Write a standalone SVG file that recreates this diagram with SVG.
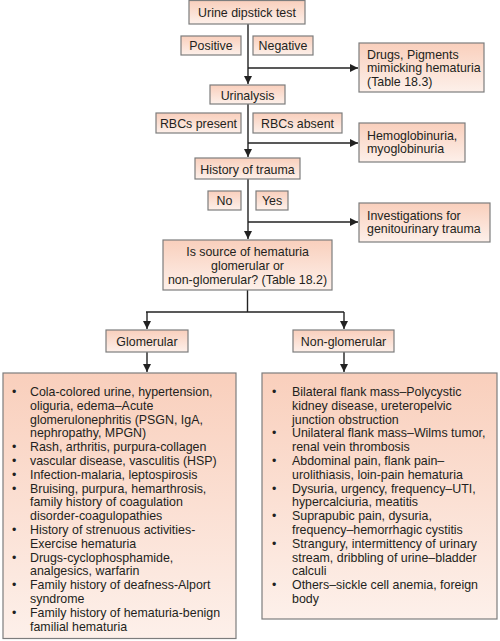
<svg xmlns="http://www.w3.org/2000/svg" width="500" height="641" viewBox="0 0 500 641">
<defs>
<linearGradient id="g" x1="0" y1="0" x2="0" y2="1">
<stop offset="0" stop-color="#f9cfbc"/>
<stop offset="1" stop-color="#fdf0ea"/>
</linearGradient>
<marker id="ah" viewBox="0 0 10 10" refX="10" refY="5" markerWidth="8" markerHeight="8" markerUnits="userSpaceOnUse" orient="auto">
<path d="M0,0 L10,5 L0,10 z" fill="#222"/>
</marker>
<style>
rect{fill:url(#g);stroke:#7d7d7d;stroke-width:1.2}
text{font-family:"Liberation Sans",Arial,sans-serif;font-size:12.4px;fill:#231f20}
.c{text-anchor:middle}
.con path{fill:none;stroke:#222;stroke-width:1.4}
</style>
</defs>
<g class="con">
<path d="M248,24 V84" marker-end="url(#ah)"/>
<path d="M248,68 H358" marker-end="url(#ah)"/>
<path d="M248,104 V157" marker-end="url(#ah)"/>
<path d="M248,143 H358" marker-end="url(#ah)"/>
<path d="M248,179 V239" marker-end="url(#ah)"/>
<path d="M248,222 H358" marker-end="url(#ah)"/>
<path d="M247.5,290 V312"/>
<path d="M146,312 H344"/>
<path d="M147,312 V329" marker-end="url(#ah)"/>
<path d="M344,312 V329" marker-end="url(#ah)"/>
<path d="M147,352 V372" marker-end="url(#ah)"/>
<path d="M344,352 V372" marker-end="url(#ah)"/>
</g>
<g id="dipstick"><rect x="189" y="0.5" width="116" height="23.5"/><text class="c" x="247" y="16.5">Urine dipstick test</text></g>
<g id="positive"><rect x="181" y="36" width="60" height="19"/><text class="c" x="211" y="50">Positive</text></g>
<g id="negative"><rect x="253" y="36" width="60" height="19"/><text class="c" x="283" y="50">Negative</text></g>
<g id="drugs"><rect x="359" y="43" width="125" height="49"/><text x="367" y="58.5">Drugs, Pigments</text><text x="367" y="72">mimicking hematuria</text><text x="367" y="85.5">(Table 18.3)</text></g>
<g id="urinalysis"><rect x="210" y="85" width="75" height="19"/><text class="c" x="247.5" y="99.5">Urinalysis</text></g>
<g id="rbcpresent"><rect x="156" y="113" width="85" height="20"/><text class="c" x="198.5" y="127.5">RBCs present</text></g>
<g id="rbcabsent"><rect x="253" y="113" width="89" height="20"/><text class="c" x="297.5" y="127.5">RBCs absent</text></g>
<g id="hemoglobinuria"><rect x="359" y="123" width="106" height="39"/><text x="367" y="139.5">Hemoglobinuria,</text><text x="367" y="153">myoglobinuria</text></g>
<g id="trauma"><rect x="195" y="158" width="105" height="21"/><text class="c" x="247.5" y="173.5">History of trauma</text></g>
<g id="no"><rect x="208" y="191" width="33" height="19"/><text class="c" x="224.5" y="205">No</text></g>
<g id="yes"><rect x="256" y="191" width="32" height="19"/><text class="c" x="272" y="205">Yes</text></g>
<g id="investigations"><rect x="359" y="203" width="131" height="39"/><text x="367" y="219.5">Investigations for</text><text x="367" y="233">genitourinary trauma</text></g>
<g id="source"><rect x="163" y="240" width="169" height="50"/><text class="c" x="247.5" y="256">Is source of hematuria</text><text class="c" x="247.5" y="269.5">glomerular or</text><text class="c" x="247.5" y="283.5">non-glomerular? (Table 18.2)</text></g>
<g id="glomerular"><rect x="106" y="330" width="82" height="22"/><text class="c" x="147" y="346">Glomerular</text></g>
<g id="nonglomerular"><rect x="293" y="330" width="101" height="22"/><text class="c" x="343.5" y="346">Non-glomerular</text></g>
<g id="glomlist"><rect x="3" y="373" width="233" height="265.5"/>
<text x="12" y="396">•</text><text x="30" y="396">Cola-colored urine, hypertension,</text>
<text x="30" y="409.8">oliguria, edema–Acute</text>
<text x="30" y="423.6">glomerulonephritis (PSGN, IgA,</text>
<text x="30" y="437.4">nephropathy, MPGN)</text>
<text x="12" y="451.2">•</text><text x="30" y="451.2">Rash, arthritis, purpura-collagen</text>
<text x="12" y="465">•</text><text x="30" y="465">vascular disease, vasculitis (HSP)</text>
<text x="12" y="478.8">•</text><text x="30" y="478.8">Infection-malaria, leptospirosis</text>
<text x="12" y="492.6">•</text><text x="30" y="492.6">Bruising, purpura, hemarthrosis,</text>
<text x="30" y="506.4">family history of coagulation</text>
<text x="30" y="520.2">disorder-coagulopathies</text>
<text x="12" y="534">•</text><text x="30" y="534">History of strenuous activities-</text>
<text x="30" y="547.8">Exercise hematuria</text>
<text x="12" y="561.6">•</text><text x="30" y="561.6">Drugs-cyclophosphamide,</text>
<text x="30" y="575.4">analgesics, warfarin</text>
<text x="12" y="589.2">•</text><text x="30" y="589.2">Family history of deafness-Alport</text>
<text x="30" y="603">syndrome</text>
<text x="12" y="616.8">•</text><text x="30" y="616.8">Family history of hematuria-benign</text>
<text x="30" y="630.6">familial hematuria</text>
</g>
<g id="nonglomlist"><rect x="262" y="373" width="235" height="246"/>
<text x="272" y="396">•</text><text x="292" y="396">Bilateral flank mass–Polycystic</text>
<text x="292" y="409.8">kidney disease, ureteropelvic</text>
<text x="292" y="423.6">junction obstruction</text>
<text x="272" y="437.4">•</text><text x="292" y="437.4">Unilateral flank mass–Wilms tumor,</text>
<text x="292" y="451.2">renal vein thrombosis</text>
<text x="272" y="465">•</text><text x="292" y="465">Abdominal pain, flank pain–</text>
<text x="292" y="478.8">urolithiasis, loin-pain hematuria</text>
<text x="272" y="492.6">•</text><text x="292" y="492.6">Dysuria, urgency, frequency–UTI,</text>
<text x="292" y="506.4">hypercalciuria, meatitis</text>
<text x="272" y="520.2">•</text><text x="292" y="520.2">Suprapubic pain, dysuria,</text>
<text x="292" y="534">frequency–hemorrhagic cystitis</text>
<text x="272" y="547.8">•</text><text x="292" y="547.8">Strangury, intermittency of urinary</text>
<text x="292" y="561.6">stream, dribbling of urine–bladder</text>
<text x="292" y="575.4">calculi</text>
<text x="272" y="589.2">•</text><text x="292" y="589.2">Others–sickle cell anemia, foreign</text>
<text x="292" y="603">body</text>
</g>
</svg>
